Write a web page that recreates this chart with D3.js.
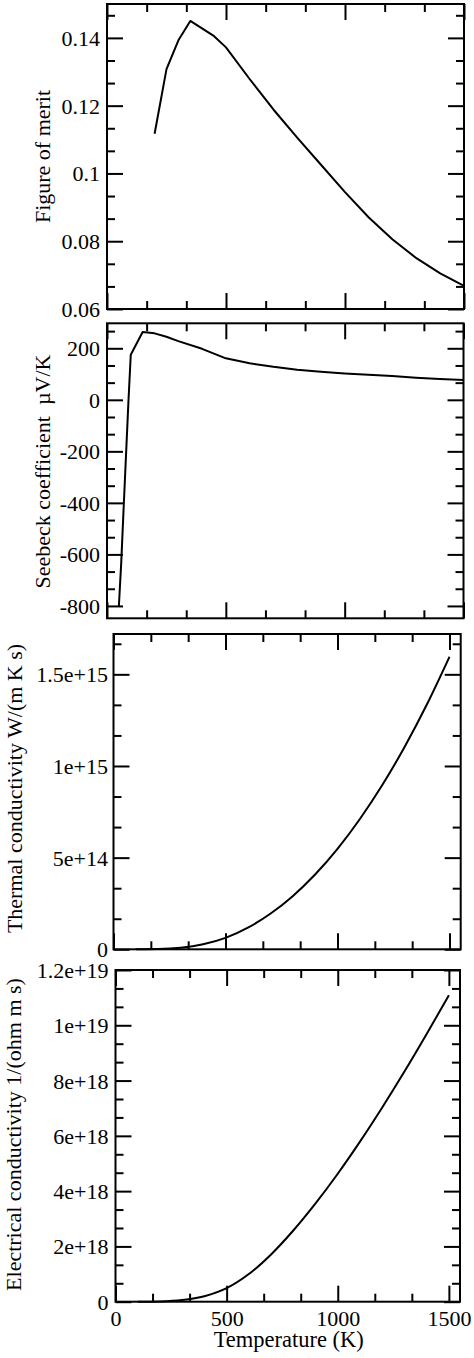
<!DOCTYPE html>
<html><head><meta charset="utf-8">
<script src="https://cdn.jsdelivr.net/npm/d3@7"></script>
<style>
body{margin:0;background:#fff}
text{font-family:"Liberation Serif","Times New Roman",serif;fill:#000}
</style></head>
<body><svg id="c" width="474" height="1358"></svg>
<script>
// ---------------- data ----------------
const fomT = [200,250,300,350,450,500,600,700,800,900,1000,1100,1200,1300,1400,1500];
const fomV = [0.1117,0.1308,0.1393,0.1450,0.1405,0.1372,0.1278,0.1188,0.1105,0.1025,0.0945,0.0870,0.0805,0.0750,0.0705,0.0668];

const seebeckT = [50,60,70,80,90,100,150,200,250,300,400,500,600,700,800,900,1000,1100,1200,1300,1400,1500];
const seebeckV = [-800,-630,-420,-215,-10,175,263,258,245,228,198,161,142,128,117,109,102,97,92,86,81,77];

const thermT = [100,200,300,400,500,600,700,800,900,1000,1100,1200,1300,1400,1500];
const thermV = [0,1e12,8e12,2.7e13,6.2e13,1.18e14,1.94e14,2.9e14,4.08e14,5.48e14,7.11e14,8.96e14,1.105e15,1.338e15,1.596e15];

const elecT = [100,200,300,400,500,600,700,800,900,1000,1100,1200,1300,1400,1500];
const elecV = [0,1e16,6e16,2e17,4.9e17,1.0e18,1.71e18,2.575e18,3.555e18,4.63e18,5.79e18,7.025e18,8.325e18,9.685e18,1.1085e19];

const fomTicks = [0.06,0.08,0.1,0.12,0.14];
const fomTickLabels = ["0.06","0.08","0.1","0.12","0.14"];
const seebeckTicks = [-800,-600,-400,-200,0,200];
const seebeckTickLabels = ["-800","-600","-400","-200","0","200"];
const thermTicks = [0,5e14,1e15,1.5e15];
const thermTickLabels = ["0","5e+14","1e+15","1.5e+15"];
const elecTicks = [0,2e18,4e18,6e18,8e18,1e19,1.2e19];
const elecTickLabels = ["0","2e+18","4e+18","6e+18","8e+18","1e+19","1.2e+19"];
const tempTicks = [0,500,1000,1500];
const tempTickLabels = ["0","500","1000","1500"];

const titles = ["Figure of merit","Seebeck coefficient\u00a0 \u00b5V/K","Thermal conductivity W/(m K s)","Electrical conductivity 1/(ohm m s)"];
const xTitle = "Temperature (K)";

// ---------------- layout ----------------
const panels = [
  {T:fomT, V:fomV, ticks:fomTicks, labels:fomTickLabels, title:titles[0], curve:d3.curveLinear,
   x0:107, x1:464, y0:4, y1:309, xd:[0,1500], yd:[0.06,0.15], yStep:0.02, labX:100, titleX:50, titleY:156.5},
  {T:seebeckT, V:seebeckV, ticks:seebeckTicks, labels:seebeckTickLabels, title:titles[1], curve:d3.curveLinear,
   x0:107, x1:463.5, y0:323.3, y1:618.3, xd:[0,1500], yd:[-848,297], yStep:200, labX:100, titleX:49.5, titleY:471.5},
  {T:thermT, V:thermV, ticks:thermTicks, labels:thermTickLabels, title:titles[2], curve:d3.curveMonotoneX,
   x0:113.5, x1:460.7, y0:634, y1:949.3, xd:[0,1550], yd:[0,1.72e15], yStep:5e14, labX:108, titleX:21.5, titleY:788.5},
  {T:elecT, V:elecV, ticks:elecTicks, labels:elecTickLabels, title:titles[3], curve:d3.curveMonotoneX,
   x0:115.5, x1:460, y0:970, y1:1301.7, xd:[0,1550], yd:[0,1.2e19], yStep:2e18, labX:108.5, titleX:20.7, titleY:1134.5, bottom:true}
];

const svg = d3.select("#c");
const MAJ = 16, MIN = 8;

function minorVals(domain, step){
  const out=[]; const s=step/3;
  const start=Math.ceil(domain[0]/s - 1e-9), end=Math.floor(domain[1]/s + 1e-9);
  for(let i=start;i<=end;i++){
    const v=i*s;
    if(Math.abs(Math.round(v/step)*step - v) > s*0.01) out.push(v);
  }
  return out;
}
function majorVals(domain, step){
  const out=[];
  const start=Math.ceil(domain[0]/step - 1e-9), end=Math.floor(domain[1]/step + 1e-9);
  for(let i=start;i<=end;i++) out.push(i*step);
  return out;
}

panels.forEach(p=>{
  const x = d3.scaleLinear().domain(p.xd).range([p.x0,p.x1]);
  const y = d3.scaleLinear().domain(p.yd).range([p.y1,p.y0]);
  const g = svg.append("g");
  const W = p.x1-p.x0, H = p.y1-p.y0;

  const xMaj = majorVals(p.xd,500), xMin = minorVals(p.xd,500);
  const yMaj = majorVals(p.yd,p.yStep), yMin = minorVals(p.yd,p.yStep);

  function addAxis(gen, tx, ty, vals, size, fmt){
    const a = gen.tickValues(vals).tickSizeInner(-size).tickSizeOuter(0).tickPadding(7)
      .tickFormat(fmt || (()=>""));
    const ag = g.append("g").attr("transform",`translate(${tx},${ty})`).call(a);
    ag.attr("font-family",null).attr("font-size",null);
    ag.select(".domain").remove();
    ag.selectAll(".tick line").attr("stroke","#000").attr("stroke-width",2);
    return ag;
  }
  // y axes
  const yl = addAxis(d3.axisLeft(y), p.x0, 0, p.ticks, MAJ, (d,i)=>p.labels[i]);
  yl.selectAll("text").attr("font-size",22).attr("x",-(p.x0-p.labX)).attr("dy","0.34em")
    .attr("fill","#000");
  addAxis(d3.axisLeft(y), p.x0, 0, yMin, MIN);
  addAxis(d3.axisRight(y), p.x1, 0, yMaj, MAJ);
  addAxis(d3.axisRight(y), p.x1, 0, yMin, MIN);
  // x axes
  if(p.bottom){
    const xb = addAxis(d3.axisBottom(x), 0, p.y1, tempTicks, MAJ, (d,i)=>tempTickLabels[i]);
    xb.selectAll("text").attr("font-size",22).attr("y",9).attr("dy","0.71em")
      .attr("fill","#000");
  } else {
    addAxis(d3.axisBottom(x), 0, p.y1, xMaj, MAJ);
  }
  addAxis(d3.axisBottom(x), 0, p.y1, xMin, MIN);
  addAxis(d3.axisTop(x), 0, p.y0, xMaj, MAJ);
  addAxis(d3.axisTop(x), 0, p.y0, xMin, MIN);

  // frame
  g.append("rect").attr("x",p.x0).attr("y",p.y0).attr("width",W).attr("height",H)
    .attr("fill","none").attr("stroke","#000").attr("stroke-width",2);

  // curve
  const pts = p.T.map((t,i)=>[t,p.V[i]]);
  g.append("path").datum(pts)
    .attr("d", d3.line().curve(p.curve).x(d=>x(d[0])).y(d=>y(d[1])))
    .attr("fill","none").attr("stroke","#000").attr("stroke-width",2).attr("stroke-linejoin","round");

  // title
  g.append("text").attr("transform",`translate(${p.titleX},${p.titleY}) rotate(-90)`)
    .attr("text-anchor","middle").attr("font-size",22).text(p.title);

  if(p.bottom){
    g.append("text").attr("x",(p.x0+p.x1)/2+1).attr("y",1347).attr("text-anchor","middle")
      .attr("font-size",22.5).text(xTitle);
  }
});
</script>
</body></html>
